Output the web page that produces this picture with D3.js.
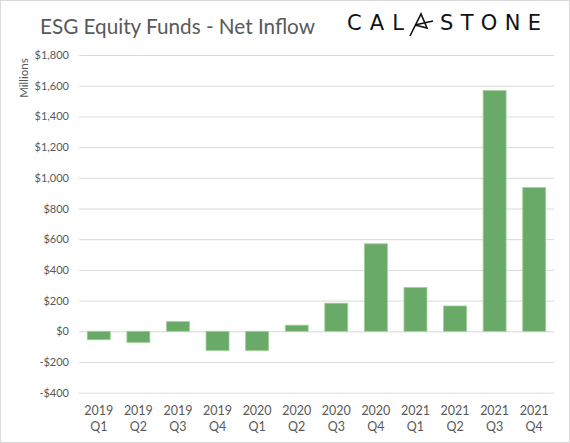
<!DOCTYPE html>
<html><head><meta charset="utf-8">
<script src="https://cdn.jsdelivr.net/npm/d3@7"></script>
<style>body{margin:0;background:#fff}svg{display:block}</style>
</head><body>
<svg id="c" width="570" height="443"></svg>
<script>
const years = ["2019","2019","2019","2019","2020","2020","2020","2020","2021","2021","2021","2021"];
const quarters = ["Q1","Q2","Q3","Q4","Q1","Q2","Q3","Q4","Q1","Q2","Q3","Q4"];
const values = [-55,-72,63,-125,-125,40,183,570,285,165,1568,936];
const yTicks = [-400,-200,0,200,400,600,800,1000,1200,1400,1600,1800];

const svg = d3.select("#c");
const font = "Lato, 'Open Sans', sans-serif";
const grey = "#595959";
svg.append("rect").attr("x",0.5).attr("y",0.5).attr("width",569).attr("height",442)
  .attr("fill","#fff").attr("stroke","#d9d9d9");

const cats = years.map((y,i)=>y+" "+quarters[i]);
const x = d3.scaleBand().domain(cats).range([79,554]).paddingInner(0.42).paddingOuter(0.21);
const y = d3.scaleLinear().domain([-400,1800]).range([392.7,55]);

// gridlines
const yAxis = d3.axisLeft(y).tickValues(yTicks).tickSize(-(554-79)).tickPadding(10)
  .tickFormat(d => (d<0?"-$":"$") + d3.format(",")(Math.abs(d)));
const gy = svg.append("g").attr("transform","translate(79,0)").call(yAxis);
gy.select(".domain").remove();
gy.selectAll(".tick line").attr("stroke","#d9d9d9").attr("stroke-width",1);
gy.selectAll(".tick text").attr("fill",grey).attr("font-family",font).attr("font-size",11);

// bars
svg.append("g").selectAll("rect").data(values).join("rect")
  .attr("x",(d,i)=>x(cats[i]))
  .attr("width",x.bandwidth())
  .attr("y",d=>y(Math.max(0,d)))
  .attr("height",d=>Math.abs(y(d)-y(0)))
  .attr("fill","#6aaa69").attr("stroke","#9fd095").attr("stroke-width",0.8);

// x labels
const xl = svg.append("g");
cats.forEach((c,i)=>{
  const cx = x(c)+x.bandwidth()/2;
  const t = xl.append("text").attr("x",cx).attr("text-anchor","middle")
    .attr("fill",grey).attr("font-family",font).attr("font-size",12.5);
  t.append("tspan").attr("x",cx).attr("y",415).text(years[i]);
  t.append("tspan").attr("x",cx).attr("y",431).text(quarters[i]);
});

// y title
svg.append("text").attr("transform","translate(28,78) rotate(-90)").attr("text-anchor","middle")
  .attr("fill",grey).attr("font-family",font).attr("font-size",11.5).text("Millions");

// title
svg.append("text").attr("x",40).attr("y",34).attr("fill",grey)
  .attr("font-family",font).attr("font-size",20.7).text("ESG Equity Funds - Net Inflow");

// logo
const lf = "'DejaVu Sans', sans-serif";
svg.append("text").attr("x",347).attr("y",30).attr("font-family",lf).attr("font-size",21)
  .attr("fill","#111").attr("textLength",57).attr("lengthAdjust","spacing").text("CAL");
svg.append("text").attr("x",440).attr("y",30).attr("font-family",lf).attr("font-size",21)
  .attr("fill","#111").attr("textLength",101).attr("lengthAdjust","spacing").text("STONE");
svg.append("path").attr("d","M410,36 L421,14 L427,28 L415,25 L433,21")
  .attr("fill","none").attr("stroke","#111").attr("stroke-width",1.6).attr("stroke-linejoin","miter");
</script>
</body></html>
